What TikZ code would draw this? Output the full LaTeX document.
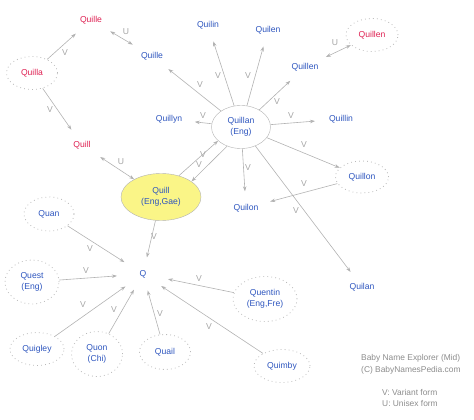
\documentclass[tikz,border=0pt]{standalone}
\usepackage{fontspec}
\setmainfont{Liberation Sans}
\usetikzlibrary{shapes.geometric,arrows.meta}

\definecolor{nameblue}{RGB}{45,85,190}
\definecolor{namered}{RGB}{222,32,82}
\definecolor{linegray}{RGB}{178,178,178}
\definecolor{lblgray}{RGB}{165,165,165}
\definecolor{ringgray}{RGB}{185,185,185}
\definecolor{mainfill}{RGB}{250,245,135}

\tikzset{
  bname/.style={ellipse, minimum width=52pt, minimum height=33pt, inner sep=0pt,
    align=center, text=nameblue, font=\fontsize{8.6}{11}\selectfont},
  girl/.style={bname, text=namered},
  ring/.style={draw=ringgray, line width=0.8pt, dash pattern=on 0.8pt off 3.2pt},
  varr/.style={draw=linegray, line width=0.6pt, -{Stealth[length=5pt,width=3.5pt]}},
  uarr/.style={draw=linegray, line width=0.6pt, {Stealth[length=5pt,width=3.5pt]}-{Stealth[length=5pt,width=3.5pt]}},
  lbl/.style={text=lblgray, inner sep=0pt, font=\fontsize{8.6}{11}\selectfont},
  legend/.style={text=lblgray!85!black, inner sep=0pt, anchor=west, font=\fontsize{8.4}{11}\selectfont}
}

\begin{document}
\begin{tikzpicture}[x=1pt,y=-1pt]
  \useasboundingbox (0,0) rectangle (474,420);

  % Main nodes
  \node[bname, draw=linegray, fill=mainfill, minimum width=80pt, minimum height=47pt] (quill) at (161,197) {Quill\\(Eng,Gae)};
  \node[bname, draw=linegray, minimum width=59pt, minimum height=43pt] (quillan) at (241,127) {Quillan\\(Eng)};
  \node[bname] (q) at (143,274) {Q};

  % Upper left
  \node[girl] (quiller) at (91,20) {Quille};
  \node[girl, ring, minimum width=51pt] (quilla) at (32,73) {Quilla};
  \node[girl] (quillr) at (82,145) {Quill};
  \node[bname] (quilleb) at (152,56) {Quille};

  % Around Quillan
  \node[bname] (quilin) at (208,25) {Quilin};
  \node[bname] (quilen) at (268,30) {Quilen};
  \node[girl, ring] (quillenr) at (372,35) {Quillen};
  \node[bname] (quillenb) at (305,67) {Quillen};
  \node[bname] (quillyn) at (169,119) {Quillyn};
  \node[bname] (quillin) at (341,119) {Quillin};
  \node[bname, ring, minimum width=53pt, minimum height=32pt] (quillon) at (362,177) {Quillon};
  \node[bname] (quilon) at (246,208) {Quilon};
  \node[bname] (quilan) at (362,287) {Quilan};

  % Around Q
  \node[bname, ring, minimum width=50pt, minimum height=34pt] (quan) at (49,214) {Quan};
  \node[bname, ring, minimum width=54pt, minimum height=44pt] (quest) at (32,282) {Quest\\(Eng)};
  \node[bname, ring, minimum width=64pt, minimum height=45pt] (quentin) at (265,299) {Quentin\\(Eng,Fre)};
  \node[bname, ring, minimum width=54pt] (quigley) at (37,349) {Quigley};
  \node[bname, ring, minimum width=51pt, minimum height=45pt] (quon) at (97,354) {Quon\\(Chi)};
  \node[bname, ring, minimum width=51pt, minimum height=35pt] (quail) at (165,352) {Quail};
  \node[bname, ring, minimum width=56pt] (quimby) at (282,366) {Quimby};

  % Edges
  \draw[varr] (quilla) -- (quiller);
  \draw[varr] (quilla) -- (quillr);
  \draw[uarr] (quiller) -- (quilleb);
  \draw[uarr] (quillr) -- (quill);
  \draw[uarr] (quillenb) -- (quillenr);
  \draw[varr] (quillon) -- (quilon);
  \draw[varr] (quill.50) -- (quillan.211);
  \draw[varr] (quillan.234) -- (quill.27);
  \draw[varr] (quill) -- (q);
  \foreach \t in {quilleb,quilin,quilen,quillenb,quillyn,quillin,quillon,quilon,quilan}
    \draw[varr] (quillan) -- (\t);
  \foreach \s in {quan,quest,quigley,quon,quail,quentin,quimby}
    \draw[varr] (\s) -- (q);

  % Edge labels
  \foreach \x/\y/\t [count=\i] in {65/53/V, 126/32/U, 50/110/V, 121/162/U, 200/85/V,
      218/76/V, 203/116/V, 199/165/V, 203/155/V, 248/76/V, 277/102/V, 335/43/U,
      291/116/V, 304/145/V, 248/168/V, 304/184/V, 296/211/V, 154/237/V, 90/249/V,
      86/271/V, 83/305/V, 114/310/V, 160/314/V, 199/279/V, 209/327/V}
    \node[lbl] (lbl\i) at (\x,\y) {\t};

  % Legend
  \node[legend] (title) at (361,358) {Baby Name Explorer (Mid)};
  \node[legend] (copy) at (361,370) {(C) BabyNamesPedia.com};
  \node[legend] (legv) at (382,392) {V: Variant form};
  \node[legend] (legu) at (382,403) {U: Unisex form};
\end{tikzpicture}
\end{document}
